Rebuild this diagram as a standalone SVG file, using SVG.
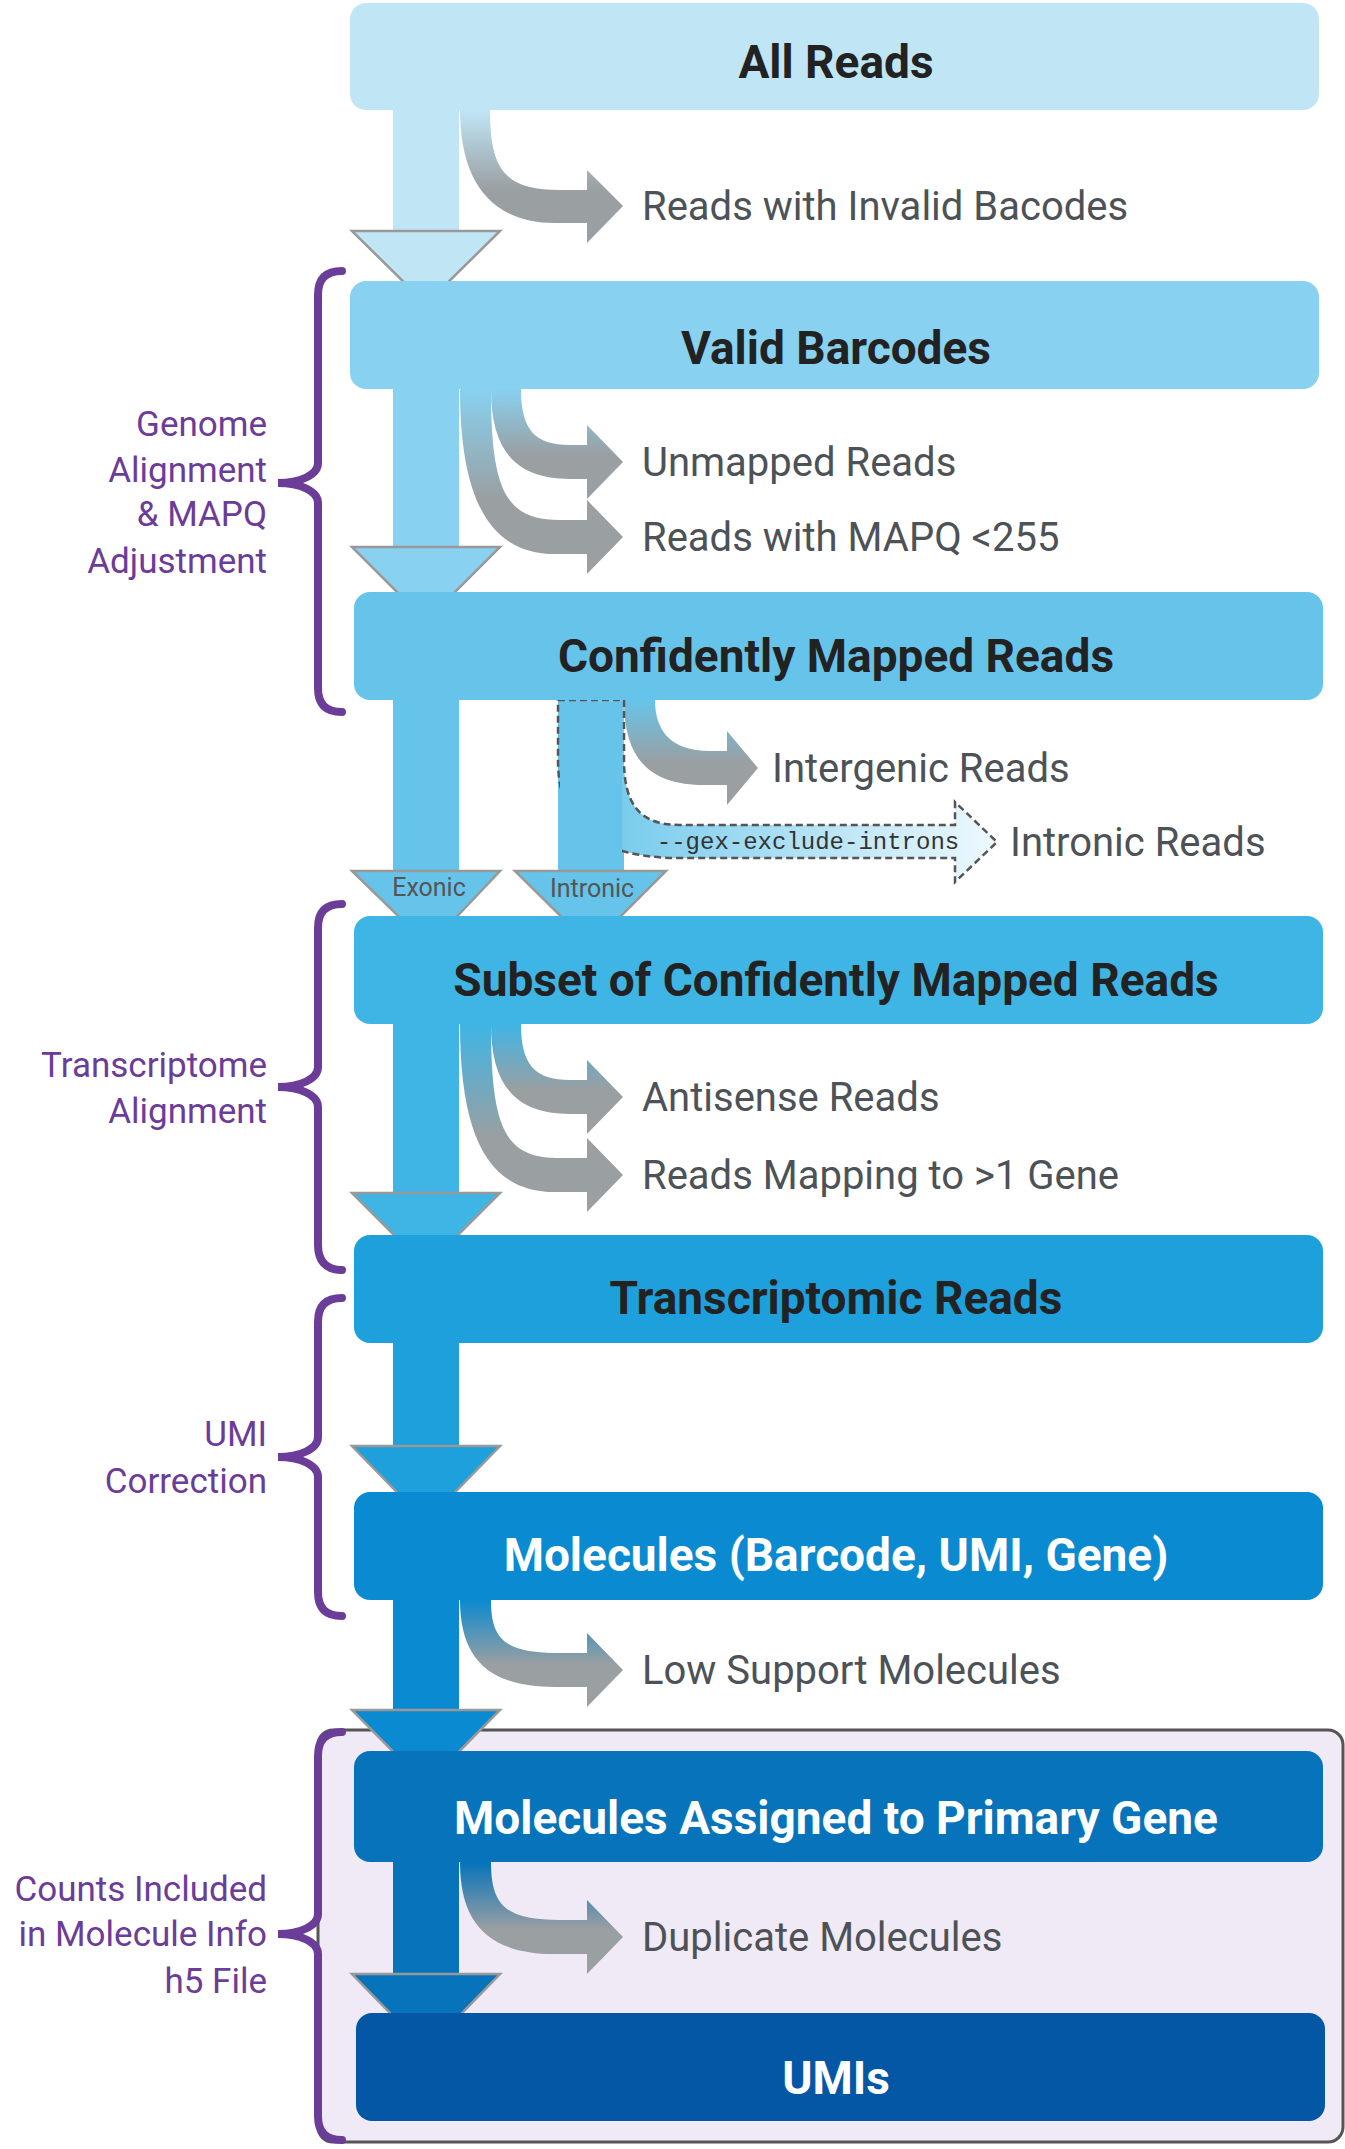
<svg xmlns="http://www.w3.org/2000/svg" width="1345" height="2149" viewBox="0 0 1345 2149">
<defs>
<style>
.t{font-family:Roboto,"Liberation Sans",sans-serif;font-weight:700;font-size:46px;text-anchor:middle;dominant-baseline:central}
.s{font-family:Roboto,"Liberation Sans",sans-serif;font-size:40px;fill:#4d5257;dominant-baseline:central}
.b{font-family:Roboto,"Liberation Sans",sans-serif;font-size:35px;fill:#6b3c98;text-anchor:end;dominant-baseline:central}
.br{fill:none;stroke:#6b3c98;stroke-width:8;stroke-linecap:round}
.hd{stroke:#999;stroke-width:2.5}
.sm{font-family:Roboto,"Liberation Sans",sans-serif;font-size:25px;fill:#555;text-anchor:middle;dominant-baseline:central}
</style>
<linearGradient id="g1" x1="0" y1="0" x2="0" y2="1"><stop offset="0" stop-color="#c0e6f6"/><stop offset="0.6" stop-color="#9a9fa2"/></linearGradient>
<linearGradient id="g2" x1="0" y1="0" x2="0" y2="1"><stop offset="0" stop-color="#88d1f0"/><stop offset="0.6" stop-color="#9a9fa2"/></linearGradient>
<linearGradient id="g3" x1="0" y1="0" x2="0" y2="1"><stop offset="0" stop-color="#66c4ea"/><stop offset="0.6" stop-color="#9a9fa2"/></linearGradient>
<linearGradient id="g4" x1="0" y1="0" x2="0" y2="1"><stop offset="0" stop-color="#3fb5e5"/><stop offset="0.6" stop-color="#9a9fa2"/></linearGradient>
<linearGradient id="g6" x1="0" y1="0" x2="0" y2="1"><stop offset="0" stop-color="#0a8ad0"/><stop offset="0.6" stop-color="#9a9fa2"/></linearGradient>
<linearGradient id="g7" x1="0" y1="0" x2="0" y2="1"><stop offset="0" stop-color="#0673bb"/><stop offset="0.6" stop-color="#9a9fa2"/></linearGradient>
<linearGradient id="gi" x1="0" y1="0" x2="1" y2="0"><stop offset="0" stop-color="#66c4ea"/><stop offset="1" stop-color="#eef9fe"/></linearGradient>
</defs>
<rect width="1345" height="2149" fill="#fff"/>
<rect x="318" y="1730" width="1025" height="412" rx="15" fill="#efeaf5" stroke="#555" stroke-width="3"/>
<g id="connectors">
<rect x="393" y="105" width="66" height="130" fill="#c0e6f6"/>
<path d="M460,110 H490 C490,170 505,190 560,190 H587 V170 L623,206 L587,243 V223 H555 C490,223 460,180 460,110 Z" fill="url(#g1)"/>
<polygon class="hd" points="352,231 500,231 426,304" fill="#c0e6f6"/>
<rect x="393" y="385" width="66" height="162" fill="#88d1f0"/>
<path d="M491,389 H521 C521,430 535,445 570,445 H587 V425 L623,462 L587,499 V479 H570 C515,479 491,450 491,389 Z" fill="url(#g2)"/>
<path d="M460,389 H491 C491,490 505,520 560,520 H587 V500 L623,537 L587,574 V554 H555 C490,554 460,500 460,389 Z" fill="url(#g2)"/>
<polygon class="hd" points="352,547 500,547 426,621" fill="#88d1f0"/>
<rect x="393" y="695" width="66" height="177" fill="#66c4ea"/>
<path d="M624,700 H655 C655,730 670,751 710,751 H727 V731 L758,768 L727,805 V785 H705 C650,785 624,760 624,700 Z" fill="url(#g3)"/>
<rect x="558" y="695" width="66" height="177" fill="#66c4ea"/>
<path d="M558,700 H624 V760 C624,805 640,825 680,825 H955 V802 L997,842 L955,882 V858 H680 C590,858 558,820 558,760 Z" fill="url(#gi)" stroke="#555" stroke-width="2.5" stroke-dasharray="7,4"/>
<rect x="560" y="702" width="62" height="170" fill="#66c4ea"/>
<text x="808" y="842" font-family="'Liberation Mono',monospace" font-size="24" text-anchor="middle" dominant-baseline="central" fill="#333">--gex-exclude-introns</text>
<polygon class="hd" points="352,871 500,871 429,946" fill="#66c4ea"/>
<polygon class="hd" points="515,871 666,871 591,946" fill="#66c4ea"/>
<text class="sm" x="429" y="887">Exonic</text>
<text class="sm" x="592" y="888">Intronic</text>
<rect x="393" y="1020" width="66" height="175" fill="#3fb5e5"/>
<path d="M491,1024 H521 C521,1065 535,1080 570,1080 H587 V1060 L623,1097 L587,1134 V1114 H570 C515,1114 491,1085 491,1024 Z" fill="url(#g4)"/>
<path d="M460,1024 H491 C491,1130 505,1158 560,1158 H587 V1138 L623,1175 L587,1212 V1192 H555 C490,1192 460,1140 460,1024 Z" fill="url(#g4)"/>
<polygon class="hd" points="352,1193 500,1193 426,1267" fill="#3fb5e5"/>
<rect x="393" y="1340" width="66" height="108" fill="#1da0db"/>
<polygon class="hd" points="352,1446 500,1446 426,1522" fill="#1da0db"/>
<rect x="393" y="1565" width="66" height="147" fill="#0a8ad0"/>
<path d="M460,1600 H491 C491,1640 505,1653 560,1653 H587 V1633 L623,1670 L587,1707 V1687 H555 C490,1687 460,1660 460,1600 Z" fill="url(#g6)"/>
<polygon class="hd" points="352,1710 500,1710 426,1785" fill="#0a8ad0"/>
<rect x="393" y="1858" width="66" height="118" fill="#0673bb"/>
<path d="M460,1862 H491 C491,1905 505,1920 560,1920 H587 V1900 L623,1937 L587,1974 V1954 H555 C490,1954 460,1925 460,1862 Z" fill="url(#g7)"/>
<polygon class="hd" points="352,1974 500,1974 426,2050" fill="#0673bb"/>
</g>
<g id="n1"><rect x="350" y="3" width="969" height="107" rx="16" fill="#c0e6f6"/><text class="t" x="836" y="62" fill="#222">All Reads</text></g>
<g id="n2"><rect x="350" y="281" width="969" height="108" rx="16" fill="#88d1f0"/><text class="t" x="836" y="348" fill="#222">Valid Barcodes</text></g>
<g id="n3"><rect x="354" y="592" width="969" height="108" rx="16" fill="#66c4ea"/><text class="t" x="836" y="656" fill="#222">Confidently Mapped Reads</text></g>
<g id="n4"><rect x="354" y="916" width="969" height="108" rx="16" fill="#3fb5e5"/><text class="t" x="836" y="980" fill="#222">Subset of Confidently Mapped Reads</text></g>
<g id="n5"><rect x="354" y="1235" width="969" height="108" rx="16" fill="#1da0db"/><text class="t" x="836" y="1298" fill="#222">Transcriptomic Reads</text></g>
<g id="n6"><rect x="354" y="1492" width="969" height="108" rx="16" fill="#0a8ad0"/><text class="t" x="836" y="1555" fill="#fff">Molecules (Barcode, UMI, Gene)</text></g>
<g id="n7"><rect x="354" y="1751" width="969" height="111" rx="16" fill="#0673bb"/><text class="t" x="836" y="1818" fill="#fff">Molecules Assigned to Primary Gene</text></g>
<g id="n8"><rect x="356" y="2013" width="969" height="108" rx="16" fill="#0457a5"/><text class="t" x="836" y="2078" fill="#fff">UMIs</text></g>
<g id="side">
<text class="s" x="642" y="206">Reads with Invalid Bacodes</text>
<text class="s" x="642" y="462">Unmapped Reads</text>
<text class="s" x="642" y="537">Reads with MAPQ &lt;255</text>
<text class="s" x="772" y="768">Intergenic Reads</text>
<text class="s" x="1010" y="842">Intronic Reads</text>
<text class="s" x="642" y="1097">Antisense Reads</text>
<text class="s" x="642" y="1175">Reads Mapping to &gt;1 Gene</text>
<text class="s" x="642" y="1670">Low Support Molecules</text>
<text class="s" x="642" y="1937">Duplicate Molecules</text>
</g>
<g id="brackets">
<path class="br" d="M342,271 C325,271 318,280 318,295 V463 C318,475 300,483 278,483 C300,483 318,491 318,503 V688 C318,703 325,712 342,712"/>
<text class="b" x="267" y="424">Genome</text><text class="b" x="267" y="470">Alignment</text><text class="b" x="267" y="514">&amp; MAPQ</text><text class="b" x="267" y="561">Adjustment</text>
<path class="br" d="M342,904 C325,904 318,913 318,928 V1067 C318,1079 300,1087 278,1087 C300,1087 318,1095 318,1107 V1245 C318,1260 325,1270 342,1270"/>
<text class="b" x="267" y="1065">Transcriptome</text><text class="b" x="267" y="1111">Alignment</text>
<path class="br" d="M342,1298 C325,1298 318,1307 318,1322 V1437 C318,1449 300,1457 278,1457 C300,1457 318,1465 318,1477 V1592 C318,1607 325,1616 342,1616"/>
<text class="b" x="267" y="1434">UMI</text><text class="b" x="267" y="1481">Correction</text>
<path class="br" d="M342,1732 C325,1732 318,1741 318,1756 V1914 C318,1926 300,1934 278,1934 C300,1934 318,1942 318,1954 V2116 C318,2131 325,2140 342,2140"/>
<text class="b" x="267" y="1889">Counts Included</text><text class="b" x="267" y="1934">in Molecule Info</text><text class="b" x="267" y="1981">h5 File</text>
</g>
</svg>
